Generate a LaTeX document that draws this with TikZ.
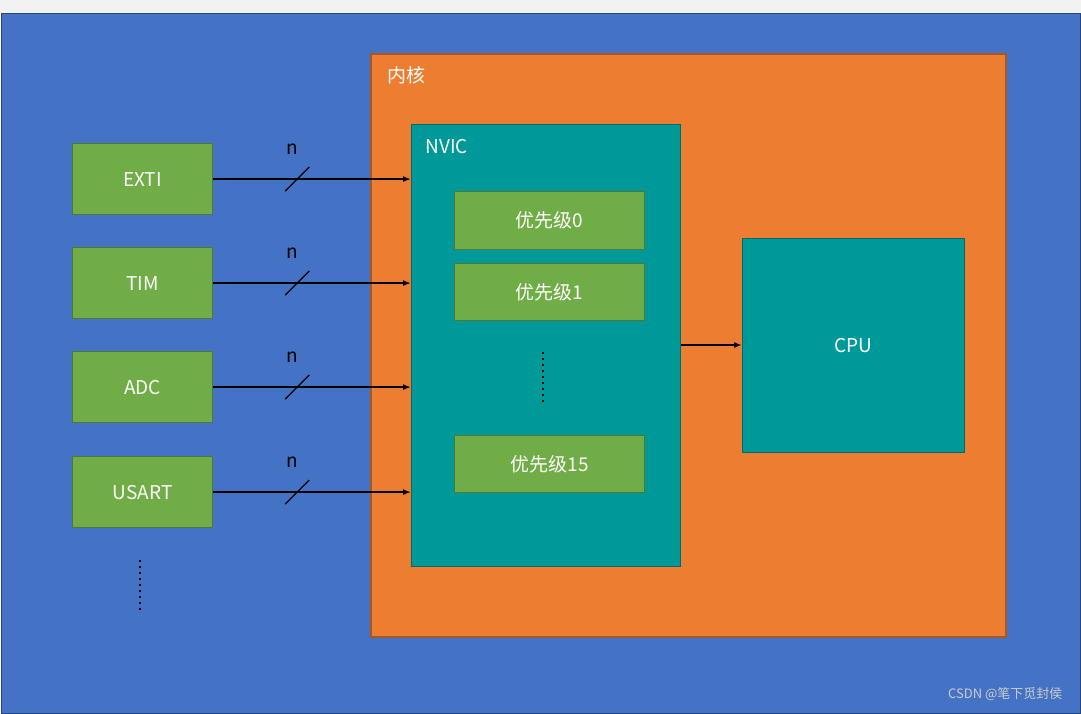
\documentclass[tikz,border=0pt]{standalone}
\usepackage{fontspec}
\setmainfont{Noto Sans CJK SC}
\usetikzlibrary{arrows.meta}
\definecolor{bl}{HTML}{4472C4}
\definecolor{og}{HTML}{ED7D31}
\definecolor{tl}{HTML}{009999}
\definecolor{gr}{HTML}{70AD47}
\begin{document}
\begin{tikzpicture}[x=1pt,y=-1pt,
 box/.style={draw=#1!70!black,line width=1.2pt,anchor=north west,inner sep=0,text=white,font=\fontsize{19}{22}\selectfont},
 g/.style={box=gr,fill=gr},
 arr/.style={line width=1.8pt,-{Latex[length=8pt,width=6pt]}},
 lbl/.style={font=\fontsize{19}{22}\selectfont}]
\useasboundingbox (0,0) rectangle (1081,714);
\fill[gray!10] (0,0) rectangle (1081,14);
\draw[fill=bl,draw=bl!60!black,line width=1pt] (1,14) rectangle (1080,713);
\draw[fill=og,draw=og!70!black,line width=1.2pt] (371,54) rectangle (1006,637);
\node[lbl,text=white,anchor=west] (core) at (384,75) {内核};
\node[box=tl,fill=tl,minimum width=269pt,minimum height=442pt] (nvic) at (411,124) {};
\node[lbl,text=white,anchor=west] (nl) at (422,147) {NVIC};
\node[g,minimum width=190pt,minimum height=58pt] (p0) at (454,191) {优先级0};
\node[g,minimum width=190pt,minimum height=57pt] (p1) at (454,263) {优先级1};
\node[g,minimum width=190pt,minimum height=57pt] (p15) at (454,435) {优先级15};
\draw[line width=2pt,dash pattern=on 2pt off 4pt] (543,352) -- (543,402);
\node[box=tl,fill=tl,minimum width=222pt,minimum height=214pt] (cpu) at (742,238) {CPU};
\draw[arr] (nvic.east|-0,345) -- (cpu.west|-0,345);
\foreach \n/\t/\y in {e/EXTI/143,t/TIM/247,a/ADC/351,u/USART/456}{
 \node[g,minimum width=140pt,minimum height=71pt] (\n) at (72,\y) {\t};
 \draw[arr] (\n.east) -- (nvic.west|-\n.east);
 \draw[line width=1.2pt] ([shift={(72,12)}]\n.east) -- ([shift={(96,-12)}]\n.east);
 \node[lbl] (n\n) at ([shift={(79,-30)}]\n.east) {n};
}
\draw[line width=2pt,dash pattern=on 2pt off 4pt] (140,560) -- (140,610);
\node[text=gray!40,font=\fontsize{13}{15}\selectfont,anchor=east] (wm) at (1066,694) {CSDN @笔下觅封侯};
\end{tikzpicture}
\end{document}
